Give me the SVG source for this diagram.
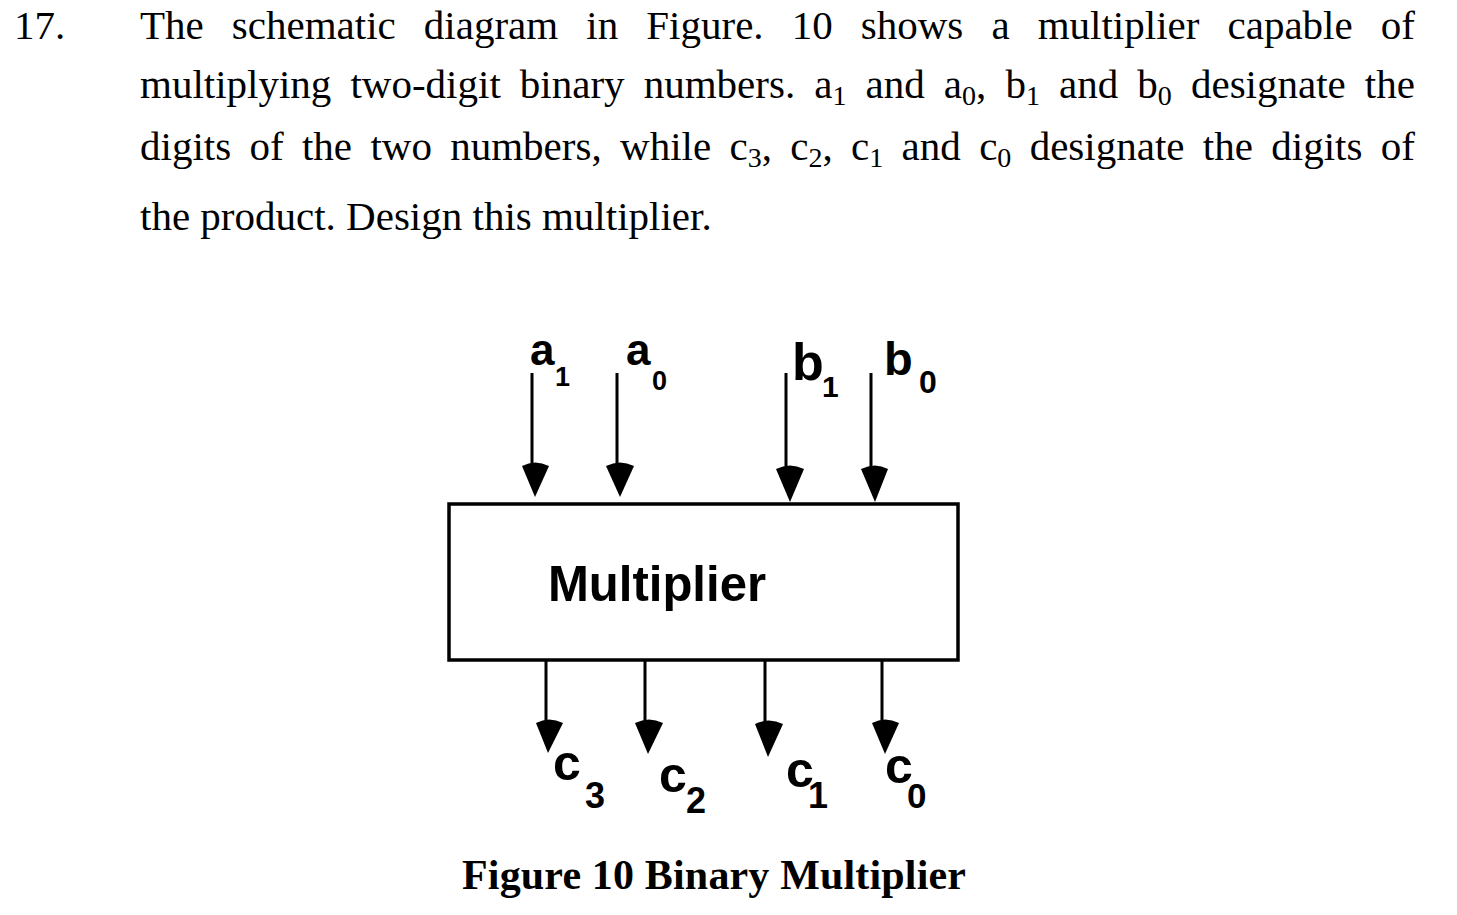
<svg xmlns="http://www.w3.org/2000/svg" width="1457" height="915" viewBox="0 0 1457 915">
<style>
.p{font-family:"Liberation Serif","Times New Roman",serif;font-size:41px;fill:#000}
.s{font-size:28px}
.lb{font-family:"Liberation Sans",Arial,sans-serif;font-weight:bold;fill:#000}
.cap{font-family:"Liberation Serif","Times New Roman",serif;font-weight:bold;font-size:42px;fill:#000}
.ln{stroke:#000;stroke-width:3;fill:none}
.hd{fill:#000;stroke:none}
</style>
<rect width="1457" height="915" fill="#fff"/>
<g id="question">
<text class="p" x="14" y="39">17.</text>
<text class="p" x="140" y="39" word-spacing="17.85">The schematic diagram in Figure. 10 shows a multiplier capable of</text>
<text class="p" x="140" y="98" word-spacing="8.85">multiplying two-digit binary numbers. a<tspan class="s" dy="7">1</tspan><tspan dy="-7"> and a</tspan><tspan class="s" dy="7">0</tspan><tspan dy="-7">, b</tspan><tspan class="s" dy="7">1</tspan><tspan dy="-7"> and b</tspan><tspan class="s" dy="7">0</tspan><tspan dy="-7"> designate the</tspan></text>
<text class="p" x="140" y="160" word-spacing="8.09">digits of the two numbers, while c<tspan class="s" dy="7">3</tspan><tspan dy="-7">, c</tspan><tspan class="s" dy="7">2</tspan><tspan dy="-7">, c</tspan><tspan class="s" dy="7">1</tspan><tspan dy="-7"> and c</tspan><tspan class="s" dy="7">0</tspan><tspan dy="-7"> designate the digits of</tspan></text>
<text class="p" x="140" y="230">the product. Design this multiplier.</text>
</g>
<g id="multiplier">
<rect x="449" y="504" width="509" height="156" fill="#fff" stroke="#000" stroke-width="3.5"/>
<text class="lb" x="548" y="601" font-size="50" textLength="218" lengthAdjust="spacingAndGlyphs">Multiplier</text>
</g>
<g id="labels">
<g id="in-a1"><text class="lb" x="530" y="365" font-size="44">a</text><text class="lb" x="555" y="386" font-size="27">1</text></g>
<g id="in-a0"><text class="lb" x="626" y="365" font-size="44">a</text><text class="lb" x="652" y="390" font-size="27">0</text></g>
<g id="in-b1"><text class="lb" x="792" y="380" font-size="52">b</text><text class="lb" x="822" y="397" font-size="30">1</text></g>
<g id="in-b0"><text class="lb" x="884" y="375" font-size="47">b</text><text class="lb" x="919" y="393" font-size="32">0</text></g>
<g id="out-c3"><text class="lb" x="553" y="780" font-size="50">c</text><text class="lb" x="585" y="808" font-size="36">3</text></g>
<g id="out-c2"><text class="lb" x="659" y="792" font-size="50">c</text><text class="lb" x="686" y="813" font-size="36">2</text></g>
<g id="out-c1"><text class="lb" x="786" y="787" font-size="50">c</text><text class="lb" x="808" y="808" font-size="36">1</text></g>
<g id="out-c0"><text class="lb" x="885" y="783" font-size="50">c</text><text class="lb" x="907" y="808" font-size="35">0</text></g>
</g>
<g id="connectors">
<path class="ln" d="M532 373V467M617 373V467M786 373V470M871 373V470M546 660V724M645 660V724M765 660V725M882 660V724"/>
<path class="hd" d="M522 466Q535 459 549 466L535 497Z"/>
<path class="hd" d="M606 466Q620 459 634 466L620 497Z"/>
<path class="hd" d="M776 469Q790 462 804 469L790 502Z"/>
<path class="hd" d="M861 469Q875 462 888 469L875 502Z"/>
<path class="hd" d="M536 723Q549 716 563 723L548 753Z"/>
<path class="hd" d="M635 723Q649 716 663 723L648 754Z"/>
<path class="hd" d="M755 724Q769 717 783 724L768 757Z"/>
<path class="hd" d="M872 723Q885 716 899 723L885 754Z"/>
</g>
<g id="caption">
<text class="cap" x="462" y="889" textLength="504">Figure 10 Binary Multiplier</text>
</g>
</svg>
